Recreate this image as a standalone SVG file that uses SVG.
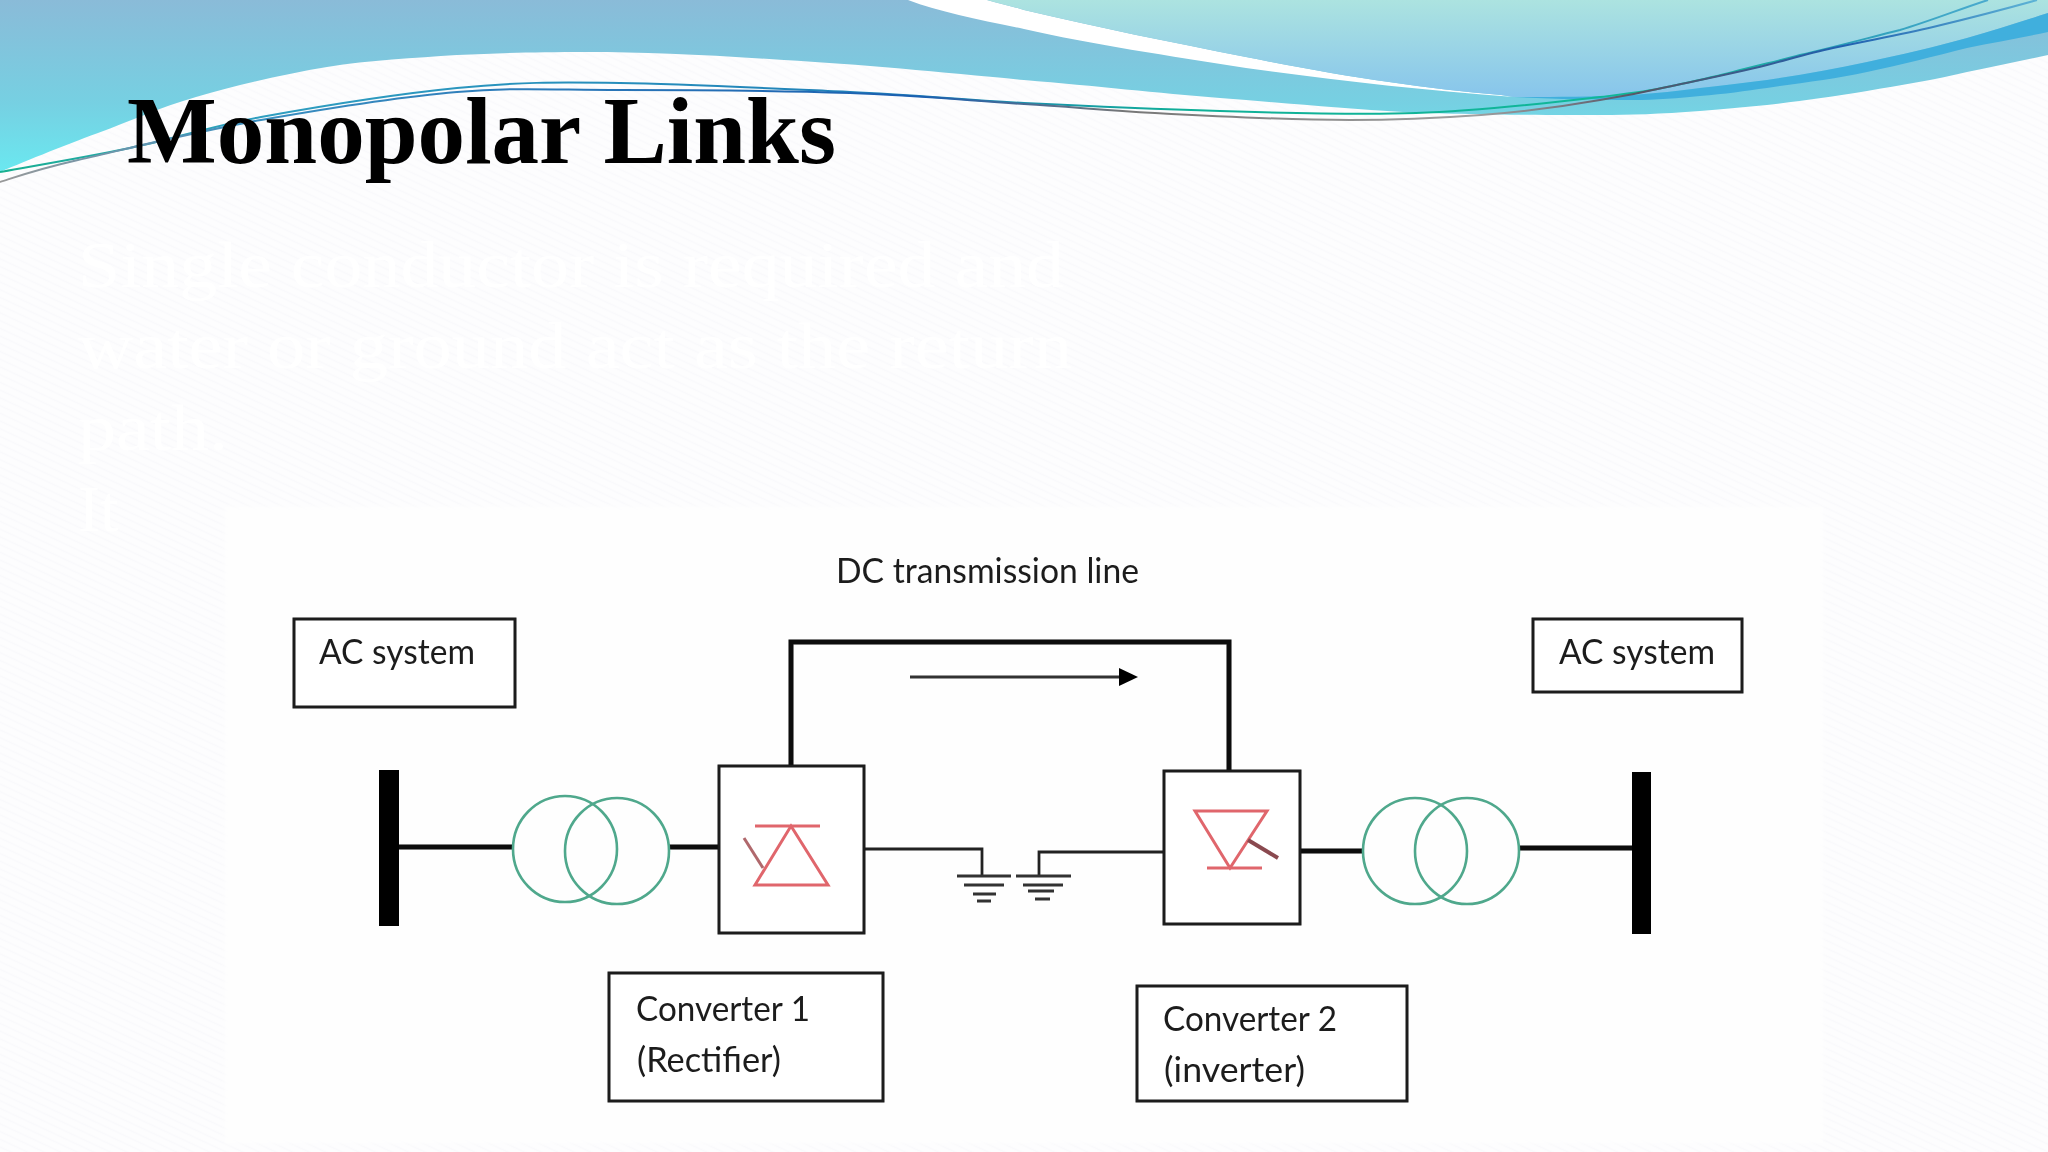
<svg xmlns="http://www.w3.org/2000/svg" width="2048" height="1152" viewBox="0 0 2048 1152">
<style>
.box{fill:#fff;stroke:#1a1a1a;stroke-width:3}
.lbl{font-family:"Lato","Open Sans","Liberation Sans",sans-serif;font-size:35px;fill:#1e1e1e}
.ghost{font-family:"Liberation Serif",serif;font-size:66px;fill:#fff}
.wire{fill:none;stroke:#0a0a0a;stroke-linecap:butt}
.thin{fill:none;stroke:#222;stroke-width:2.8}
.gnd{fill:none;stroke:#333;stroke-width:3}
.xf{fill:none;stroke:#4fa88c;stroke-width:2.6}
.red{fill:none;stroke:#e0666c;stroke-width:3}
.bus{fill:#000}
</style>
<defs>
<pattern id="hatch" width="7" height="7" patternUnits="userSpaceOnUse" patternTransform="rotate(25)">
<rect width="7" height="7" fill="#fdfdfe"/>
<path d="M0 3.5H7" stroke="#f9f9fc" stroke-width="1.5"/>
</pattern>
<linearGradient id="gMain" gradientUnits="userSpaceOnUse" x1="0" y1="0" x2="0" y2="172">
<stop offset="0" stop-color="#8abbd8"/><stop offset="0.6" stop-color="#76d0e2"/><stop offset="1" stop-color="#6ae8f0"/>
</linearGradient>
<linearGradient id="gUp" gradientUnits="userSpaceOnUse" x1="0" y1="0" x2="0" y2="100">
<stop offset="0" stop-color="#ace3e0"/><stop offset="1" stop-color="#86c4ec"/>
</linearGradient>
<linearGradient id="gA" gradientUnits="userSpaceOnUse" x1="0" y1="0" x2="2048" y2="0">
<stop offset="0" stop-color="#18b090"/><stop offset="0.12" stop-color="#2f9fc0"/><stop offset="0.45" stop-color="#1f7fb8"/><stop offset="0.58" stop-color="#10b098"/><stop offset="0.82" stop-color="#10b898"/><stop offset="0.9" stop-color="#2a9fb8"/><stop offset="1" stop-color="#58b0d8"/>
</linearGradient>
<linearGradient id="gB" gradientUnits="userSpaceOnUse" x1="0" y1="0" x2="2048" y2="0">
<stop offset="0" stop-color="#999"/><stop offset="0.12" stop-color="#3a8fc0"/><stop offset="0.45" stop-color="#1a5fb0"/><stop offset="0.55" stop-color="#777"/><stop offset="0.72" stop-color="#a0a0a0"/><stop offset="0.8" stop-color="#556"/><stop offset="0.9" stop-color="#2060b0"/><stop offset="1" stop-color="#60b8d8"/>
</linearGradient>
<filter id="soft" x="-5%" y="-5%" width="110%" height="110%"><feGaussianBlur stdDeviation="0.45"/></filter>
<filter id="panelEdge" x="-2%" y="-2%" width="104%" height="104%"><feGaussianBlur stdDeviation="2"/></filter>
</defs>
<rect id="background" width="2048" height="1152" fill="url(#hatch)"/>
<g id="header">
<path d="M0 0H2048V55C2020 61 1995 66 1967 72C1935 80 1900 85 1867 91C1830 97 1800 101 1767 105C1745 107 1725 109 1700 111C1660 114 1630 115 1600 115C1560 115 1460 115 1403 112C1346 109 1283 103 1220 98C1157 93 1097 86 1024 80C951 73 857 64 784 60C711 55 643 52 588 52C533 52 500 53 457 55C414 58 370 60 327 67C284 74 234 86 196 97C158 108 131 121 98 133C65 145 16 165 0 172Z" fill="url(#gMain)"/>
<path d="M908 0H987C1000 4 1012 6 1024 10C1100 28 1170 42 1246 57C1340 76 1420 88 1501 95L1514 97C1420 90 1330 80 1246 68C1170 56 1090 44 1024 29C980 20 940 12 908 0Z" fill="#fff"/>
<path d="M987 0H2048V13C2020 22 1995 30 1967 38C1935 47 1900 55 1867 62C1835 69 1800 75 1767 80C1745 83 1725 85 1700 88C1680 91 1655 93 1633 95C1590 97 1550 97 1514 97L1501 95C1420 88 1340 76 1246 57C1170 42 1100 28 1024 10C1012 6 1000 4 987 0Z" fill="url(#gUp)"/>
<path d="M2048 13C2020 22 1995 30 1967 38C1935 47 1900 55 1867 62C1835 69 1800 75 1767 80C1745 83 1725 85 1700 88C1680 91 1655 93 1633 95C1590 97 1550 97 1514 97C1550 99 1590 100 1633 100C1655 100 1680 98 1700 96C1725 94 1745 91 1767 88C1800 83 1835 79 1867 72C1900 65 1935 56 1967 48C1995 42 2020 38 2048 32Z" fill="#40afdd"/>
<path d="M0 172C22 168 87 157 130 148C174 139 207 127 261 117C316 107 397 94 457 88C517 82 555 82 620 83C686 84 783 89 850 92C917 95 962 100 1024 103C1086 106 1155 109 1220 111C1285 113 1356 115 1416 113C1476 111 1540 104 1600 97C1625 94 1645 92 1667 87C1690 82 1710 78 1733 72C1755 66 1778 61 1800 55C1835 47 1868 38 1900 30C1930 21 1960 9 1988 0" fill="none" stroke="url(#gA)" stroke-width="2"/>
<path d="M0 182C13 178 34 170 78 160C122 150 198 131 261 120C324 109 397 97 457 92C517 87 554 90 620 90C686 90 783 91 850 93C917 95 974 101 1024 104C1074 107 1101 110 1155 113C1209 116 1296 120 1350 120C1404 120 1440 118 1481 115C1522 112 1560 107 1600 100C1625 96 1645 92 1667 87C1700 80 1735 73 1767 65C1790 59 1810 53 1833 48C1870 40 1900 35 1933 27C1970 18 2005 9 2037 0" fill="none" stroke="url(#gB)" stroke-width="2"/>
</g>
<g id="hidden-text">
<text class="ghost" x="78" y="287" textLength="986" lengthAdjust="spacingAndGlyphs">Single conductor is required and</text>
<text class="ghost" x="78" y="368" textLength="994" lengthAdjust="spacingAndGlyphs">water or ground act as the return</text>
<text class="ghost" x="78" y="450" textLength="150" lengthAdjust="spacingAndGlyphs">path.</text>
<text class="ghost" x="78" y="531">It</text>
</g>
<rect id="panel" x="225" y="507" width="1598" height="636" fill="#fefefe" filter="url(#panelEdge)"/>
<text id="title" x="127" y="163" font-family="'Liberation Serif',serif" font-weight="700" font-size="96" fill="#000" textLength="709" lengthAdjust="spacingAndGlyphs">Monopolar Links</text>
<g id="connectors" filter="url(#soft)">
<path class="wire" stroke-width="5" d="M791 766V642H1229V771"/>
<path class="wire" stroke-width="5" d="M399 847H513"/>
<path class="wire" stroke-width="5" d="M668 847H719"/>
<path class="wire" stroke-width="5" d="M1300 851H1363"/>
<path class="wire" stroke-width="5" d="M1519 848H1632"/>
<path class="thin" d="M864 849H982V875"/>
<path class="thin" d="M1164 852H1039V876"/>
<path d="M910 677H1120" fill="none" stroke="#333" stroke-width="3"/>
<path d="M1119 668L1138 677L1119 686Z" fill="#000"/>
</g>
<g id="ground-1" filter="url(#soft)"><path class="gnd" d="M957 876H1011M964 885H1004M973 894H996M977 901H991"/></g>
<g id="ground-2" filter="url(#soft)"><path class="gnd" d="M1016 876H1071M1023 885H1063M1028 891H1054M1035 899H1050"/></g>
<g id="bus-left" filter="url(#soft)"><rect class="bus" x="379" y="770" width="20" height="156"/></g>
<g id="bus-right" filter="url(#soft)"><rect class="bus" x="1632" y="772" width="19" height="162"/></g>
<g id="transformer-1" filter="url(#soft)">
<ellipse class="xf" cx="565" cy="849" rx="52" ry="53"/><ellipse class="xf" cx="617" cy="851" rx="52" ry="53"/>
</g>
<g id="transformer-2" filter="url(#soft)">
<ellipse class="xf" cx="1415" cy="851" rx="52" ry="53"/><ellipse class="xf" cx="1467" cy="851" rx="52" ry="53"/>
</g>
<g id="converter-1" filter="url(#soft)">
<rect class="box" x="719" y="766" width="145" height="167"/>
<path class="red" d="M755 826H820"/>
<path class="red" d="M791 826L828 885H755Z" stroke="#d87278"/>
<path d="M744 838L763 868" fill="none" stroke="#b0686c" stroke-width="3"/>
</g>
<g id="converter-2" filter="url(#soft)">
<rect class="box" x="1164" y="771" width="136" height="153"/>
<path class="red" d="M1195 811H1267L1230 868Z" stroke="#c8686e"/>
<path class="red" d="M1207 868H1262"/>
<path d="M1248 840L1278 858" fill="none" stroke="#8a4a50" stroke-width="4"/>
</g>
<g id="label-dc" filter="url(#soft)">
<text class="lbl" x="836" y="583" textLength="303" lengthAdjust="spacingAndGlyphs">DC transmission line</text>
</g>
<g id="ac-system-left" filter="url(#soft)">
<rect class="box" x="294" y="619" width="221" height="88"/>
<text class="lbl" x="319" y="664" textLength="156" lengthAdjust="spacingAndGlyphs">AC system</text>
</g>
<g id="ac-system-right" filter="url(#soft)">
<rect class="box" x="1533" y="619" width="209" height="73"/>
<text class="lbl" x="1559" y="664" textLength="156" lengthAdjust="spacingAndGlyphs">AC system</text>
</g>
<g id="label-converter-1" filter="url(#soft)">
<rect class="box" x="609" y="973" width="274" height="128"/>
<text class="lbl" x="636" y="1021" textLength="174" lengthAdjust="spacingAndGlyphs">Converter 1</text>
<text class="lbl" x="637" y="1072" textLength="144" lengthAdjust="spacingAndGlyphs">(Rectifier)</text>
</g>
<g id="label-converter-2" filter="url(#soft)">
<rect class="box" x="1137" y="986" width="270" height="115"/>
<text class="lbl" x="1163" y="1031" textLength="174" lengthAdjust="spacingAndGlyphs">Converter 2</text>
<text class="lbl" x="1164" y="1082" textLength="141" lengthAdjust="spacingAndGlyphs">(inverter)</text>
</g>
</svg>
